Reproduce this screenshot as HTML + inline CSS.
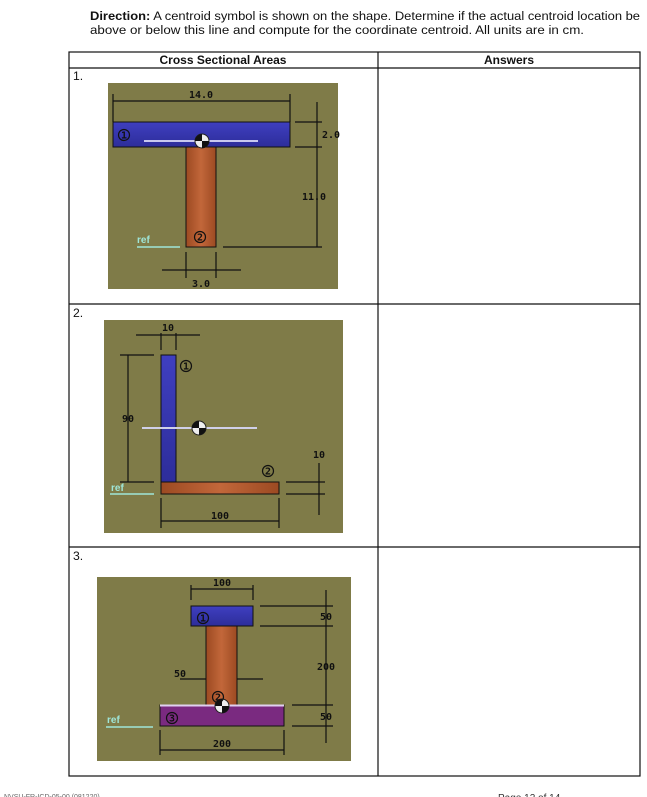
<!DOCTYPE html>
<html><head><meta charset="utf-8"><style>
html,body{margin:0;padding:0;background:#fff;width:647px;height:797px;overflow:hidden}
svg{display:block}
.t{font-family:"Liberation Sans",sans-serif;font-size:12.2px;fill:#111}
.h{font-family:"Liberation Sans",sans-serif;font-size:12px;fill:#111}
.d{font-family:"DejaVu Sans Mono","Liberation Mono",monospace;font-size:10px;font-weight:bold;fill:#111}
.k{stroke:#111;stroke-width:1.2;fill:none}
.r{font-family:"Liberation Sans",sans-serif;font-size:10px;font-weight:bold;fill:#9fe6d8}
</style></head><body>
<svg width="647" height="797" viewBox="0 0 647 797" xmlns="http://www.w3.org/2000/svg">
<defs>
<linearGradient id="br" x1="0" x2="1"><stop offset="0" stop-color="#9c4a22"/><stop offset=".5" stop-color="#c2673a"/><stop offset="1" stop-color="#9c4a22"/></linearGradient>
<linearGradient id="bl" x1="0" y1="0" x2="0" y2="1"><stop offset="0" stop-color="#3f3fc0"/><stop offset="1" stop-color="#2d2d9a"/></linearGradient>
<g id="cen"><circle r="7" fill="#eee" stroke="#222" stroke-width="1"/><path d="M0,0 L0,-7 A7,7 0 0 0 -7,0 Z M0,0 L0,7 A7,7 0 0 0 7,0 Z" fill="#111"/></g>
</defs>
<text class="t" x="90" y="20" textLength="550" lengthAdjust="spacingAndGlyphs"><tspan font-weight="bold">Direction:</tspan> A centroid symbol is shown on the shape. Determine if the actual centroid location be</text>
<text class="t" x="90" y="34" textLength="494" lengthAdjust="spacingAndGlyphs">above or below this line and compute for the coordinate centroid. All units are in cm.</text>
<g stroke="#111" stroke-width="1.2" fill="none">
<rect x="69" y="52" width="571" height="724"/>
<line x1="378" y1="52" x2="378" y2="776"/>
<line x1="69" y1="68" x2="640" y2="68"/>
<line x1="69" y1="304" x2="640" y2="304"/>
<line x1="69" y1="547" x2="640" y2="547"/>
</g>
<text class="h" x="223" y="64" text-anchor="middle" font-weight="bold">Cross Sectional Areas</text>
<text class="h" x="509" y="64" text-anchor="middle" font-weight="bold">Answers</text>
<text class="t" x="73" y="80">1.</text>
<text class="t" x="73" y="317">2.</text>
<text class="t" x="73" y="560">3.</text>

<rect x="108" y="83" width="230" height="206" fill="#7f7b48"/>
<rect x="113" y="122" width="177" height="25" fill="url(#bl)" stroke="#111"/>
<rect x="186" y="147" width="30" height="100" fill="url(#br)" stroke="#111"/>
<line x1="144" y1="141" x2="258" y2="141" stroke="#c8c8f0" stroke-width="2"/>
<use href="#cen" x="202" y="141"/>
<circle cx="124" cy="135" r="5.5" fill="none" stroke="#111" stroke-width="1.2"/><text class="d" x="124" y="138.5" text-anchor="middle" font-size="8">1</text>
<circle cx="200" cy="237" r="5.5" fill="none" stroke="#111" stroke-width="1.2"/><text class="d" x="200" y="240.5" text-anchor="middle" font-size="8">2</text>
<g class="k">
<path d="M113,94V122 M290,94V122 M113,101H290"/>
<path d="M317,102V247 M295,122H322 M295,147H322 M223,247H322"/>
<path d="M186,252V278 M216,252V278 M162,270H241"/>
</g>
<text class="d" x="201" y="98" text-anchor="middle">14.0</text>
<text class="d" x="322" y="138">2.0</text>
<text class="d" x="302" y="200">11.0</text>
<text class="d" x="201" y="287" text-anchor="middle">3.0</text>
<text class="r" x="137" y="243">ref</text>
<line x1="137" y1="247" x2="180" y2="247" stroke="#9fe6d8" stroke-width="1.5"/>

<rect x="104" y="320" width="239" height="213" fill="#7f7b48"/>
<rect x="161" y="355" width="15" height="127" fill="url(#bl)" stroke="#111"/>
<rect x="161" y="482" width="118" height="12" fill="url(#br)" stroke="#111"/>
<line x1="142" y1="428" x2="257" y2="428" stroke="#d0d0e8" stroke-width="2"/>
<use href="#cen" x="199" y="428"/>
<circle cx="186" cy="366" r="5.5" fill="none" stroke="#111" stroke-width="1.2"/><text class="d" x="186" y="369.5" text-anchor="middle" font-size="8">1</text>
<circle cx="268" cy="471" r="5.5" fill="none" stroke="#111" stroke-width="1.2"/><text class="d" x="268" y="474.5" text-anchor="middle" font-size="8">2</text>
<g class="k">
<path d="M161,333V350 M176,333V350 M136,335H200"/>
<path d="M128,355V482 M120,355H154 M120,482H154"/>
<path d="M319,463V515 M286,482H325 M286,494H325"/>
<path d="M161,498V528 M279,498V528 M161,521H279"/>
</g>
<text class="d" x="168" y="331" text-anchor="middle">10</text>
<text class="d" x="128" y="422" text-anchor="middle">90</text>
<text class="d" x="319" y="458" text-anchor="middle">10</text>
<text class="d" x="220" y="519" text-anchor="middle">100</text>
<text class="r" x="111" y="491">ref</text>
<line x1="110" y1="494" x2="154" y2="494" stroke="#9fe6d8" stroke-width="1.5"/>

<rect x="97" y="577" width="254" height="184" fill="#7f7b48"/>
<rect x="191" y="606" width="62" height="20" fill="url(#bl)" stroke="#111"/>
<rect x="206" y="626" width="31" height="79" fill="url(#br)" stroke="#111"/>
<rect x="160" y="705" width="124" height="21" fill="#7a2a80" stroke="#111"/>
<line x1="160" y1="705.5" x2="284" y2="705.5" stroke="#e0d0f0" stroke-width="2"/>
<use href="#cen" x="222" y="706"/>
<circle cx="203" cy="618" r="5.5" fill="none" stroke="#111" stroke-width="1.2"/><text class="d" x="203" y="621.5" text-anchor="middle" font-size="8">1</text>
<circle cx="218" cy="697" r="5.5" fill="none" stroke="#111" stroke-width="1.2"/><text class="d" x="218" y="700.5" text-anchor="middle" font-size="8">2</text>
<circle cx="172" cy="718" r="5.5" fill="none" stroke="#111" stroke-width="1.2"/><text class="d" x="172" y="721.5" text-anchor="middle" font-size="8">3</text>
<g class="k">
<path d="M191,585V600 M253,585V600 M191,589H253"/>
<path d="M326,590V743 M260,606H333 M260,626H333 M292,705H333 M292,726H333"/>
<path d="M180,679H206 M237,679H263"/>
<path d="M160,730V755 M284,730V755 M160,750H284"/>
</g>
<text class="d" x="222" y="586" text-anchor="middle">100</text>
<text class="d" x="326" y="620" text-anchor="middle">50</text>
<text class="d" x="326" y="670" text-anchor="middle">200</text>
<text class="d" x="326" y="720" text-anchor="middle">50</text>
<text class="d" x="180" y="677" text-anchor="middle">50</text>
<text class="d" x="222" y="747" text-anchor="middle">200</text>
<text class="r" x="107" y="723">ref</text>
<line x1="106" y1="727" x2="153" y2="727" stroke="#9fe6d8" stroke-width="1.5"/>

<text x="4" y="799" font-family="Liberation Sans,sans-serif" font-size="7" fill="#666">NVSU-FR-ICD-05-00 (081220)</text>
<text x="498" y="801" font-family="Liberation Sans,sans-serif" font-size="10" fill="#333">Page 12 of 14</text>
</svg>
</body></html>
